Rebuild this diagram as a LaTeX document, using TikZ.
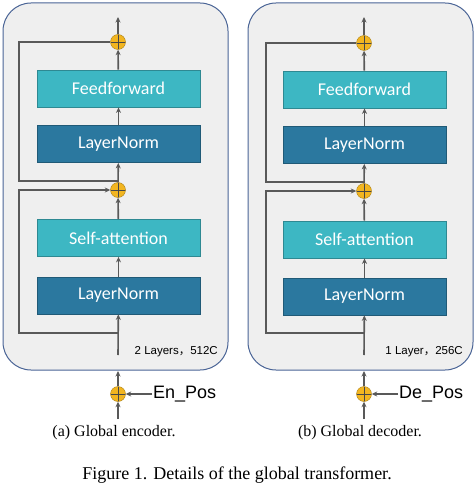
\documentclass[tikz,border=0pt]{standalone}
\usepackage{fontspec}
\setmainfont{Liberation Serif}
\setsansfont{Carlito}
\newfontfamily\arialfont{Liberation Sans}
\newfontfamily\cjk{Noto Sans CJK SC}
\usetikzlibrary{arrows.meta,positioning}
\definecolor{panelfill}{HTML}{EFEFEF}
\definecolor{panelline}{HTML}{4A6496}
\definecolor{lightblock}{HTML}{3DB7C3}
\definecolor{darkblock}{HTML}{2B789F}
\definecolor{sumfill}{HTML}{F2B520}
\definecolor{flow}{HTML}{595959}
\tikzset{
	panel/.style={draw=panelline, fill=panelfill, rounded corners=28pt, line width=1pt},
	block/.style={draw=#1!75!black, fill=#1, text=white, minimum width=163pt, minimum height=37pt,
		inner sep=0pt, line width=0.8pt, font=\sffamily\fontsize{18}{18}\selectfont},
	sum/.style={circle, draw=sumfill!70!black, fill=sumfill, minimum size=15pt, inner sep=0pt,
		path picture={\draw[flow!80!black, line width=0.8pt]
			(path picture bounding box.north) -- (path picture bounding box.south)
			(path picture bounding box.west) -- (path picture bounding box.east);}},
	flowline/.style={draw=flow, line width=1.6pt},
	flowarrow/.style={flowline, -{Stealth[length=5.5pt, width=5pt]}},
	posname/.style={font=\arialfont\fontsize{18}{18}\selectfont, anchor=west, inner sep=1pt},
	layername/.style={font=\arialfont\fontsize{11.5}{11.5}\selectfont, anchor=east, inner sep=0pt},
	subcap/.style={font=\fontsize{16}{16}\selectfont},
}
\begin{document}
\begin{tikzpicture}[x=1pt, y=-1pt]
	\useasboundingbox (0, 0) rectangle (474, 484);

	% (a) global encoder
	\draw[panel] (3, 3) rectangle (228, 370);
	\node[block=lightblock] (ffa) at (118.5, 88.5) {Feedforward};
	\node[block=darkblock] (lnonea) at (118.5, 144) {LayerNorm};
	\node[block=lightblock] (saa) at (118.5, 238) {Self-attention};
	\node[block=darkblock] (lntwoa) at (118.5, 295.5) {LayerNorm};
	\node[sum] (topsuma) at (118, 42) {};
	\node[sum] (midsuma) at (118, 190) {};
	\node[sum] (possuma) at (118, 394) {};
	\node[posname] (posa) at (152, 394) {En\_Pos};
	\node[layername] (layersa) at (218, 352) {2 Layers{\cjk ，}512C};

	\coordinate (outa) at (118, 17);
	\coordinate (ina) at (118, 355);
	\coordinate (bordera) at (118, 371);
	\coordinate (srca) at (118, 419);
	\coordinate (forkonea) at (118, 181);
	\coordinate (forktwoa) at (118, 333);
	\coordinate (skiponea) at (19, 181);
	\coordinate (skiptwoa) at (19, 333);

	\draw[flowarrow] (topsuma) -- (outa);
	\draw[flowarrow] (ffa) -- (topsuma);
	\draw[flowarrow] (lnonea) -- (ffa);
	\draw[flowarrow] (midsuma) -- (lnonea);
	\draw[flowarrow] (saa) -- (midsuma);
	\draw[flowarrow] (lntwoa) -- (saa);
	\draw[flowarrow] (ina) -- (lntwoa);
	\draw[flowline] (forkonea) -- (skiponea) -- (skiponea |- topsuma) -- (topsuma);
	\draw[flowarrow] (forktwoa) -- (skiptwoa) -- (skiptwoa |- midsuma) -- (midsuma);
	\draw[flowarrow] (srca) -- (possuma);
	\draw[flowarrow] (possuma) -- (bordera);
	\draw[flowarrow] (posa.west) -- (possuma);

	% (b) global decoder
	\draw[panel] (248, 3) rectangle (473, 370);
	\node[block=lightblock] (ffb) at (364.5, 89.5) {Feedforward};
	\node[block=darkblock] (lnoneb) at (364.5, 145) {LayerNorm};
	\node[block=lightblock] (sab) at (364.5, 239.5) {Self-attention};
	\node[block=darkblock] (lntwob) at (364.5, 296.5) {LayerNorm};
	\node[sum] (topsumb) at (364, 43) {};
	\node[sum] (midsumb) at (364, 191) {};
	\node[sum] (possumb) at (364, 394) {};
	\node[posname] (posb) at (398, 394) {De\_Pos};
	\node[layername] (layersb) at (463, 352) {1 Layer{\cjk ，}256C};

	\coordinate (outb) at (364, 17);
	\coordinate (inb) at (364, 355);
	\coordinate (borderb) at (364, 371);
	\coordinate (srcb) at (364, 419);
	\coordinate (forkoneb) at (364, 182);
	\coordinate (forktwob) at (364, 333);
	\coordinate (skiponeb) at (266, 182);
	\coordinate (skiptwob) at (266, 333);

	\draw[flowarrow] (topsumb) -- (outb);
	\draw[flowarrow] (ffb) -- (topsumb);
	\draw[flowarrow] (lnoneb) -- (ffb);
	\draw[flowarrow] (midsumb) -- (lnoneb);
	\draw[flowarrow] (sab) -- (midsumb);
	\draw[flowarrow] (lntwob) -- (sab);
	\draw[flowarrow] (inb) -- (lntwob);
	\draw[flowline] (forkoneb) -- (skiponeb) -- (skiponeb |- topsumb) -- (topsumb);
	\draw[flowarrow] (forktwob) -- (skiptwob) -- (skiptwob |- midsumb) -- (midsumb);
	\draw[flowarrow] (srcb) -- (possumb);
	\draw[flowarrow] (possumb) -- (borderb);
	\draw[flowarrow] (posb.west) -- (possumb);

	% captions
	\node[subcap] (capa) at (114, 433) {(a) Global encoder.};
	\node[subcap] (capb) at (360, 433) {(b) Global decoder.};
	\node[font=\fontsize{18}{18}\selectfont] (figcap) at (237, 475) {Figure 1. Details of the global transformer.};
\end{tikzpicture}
\end{document}
